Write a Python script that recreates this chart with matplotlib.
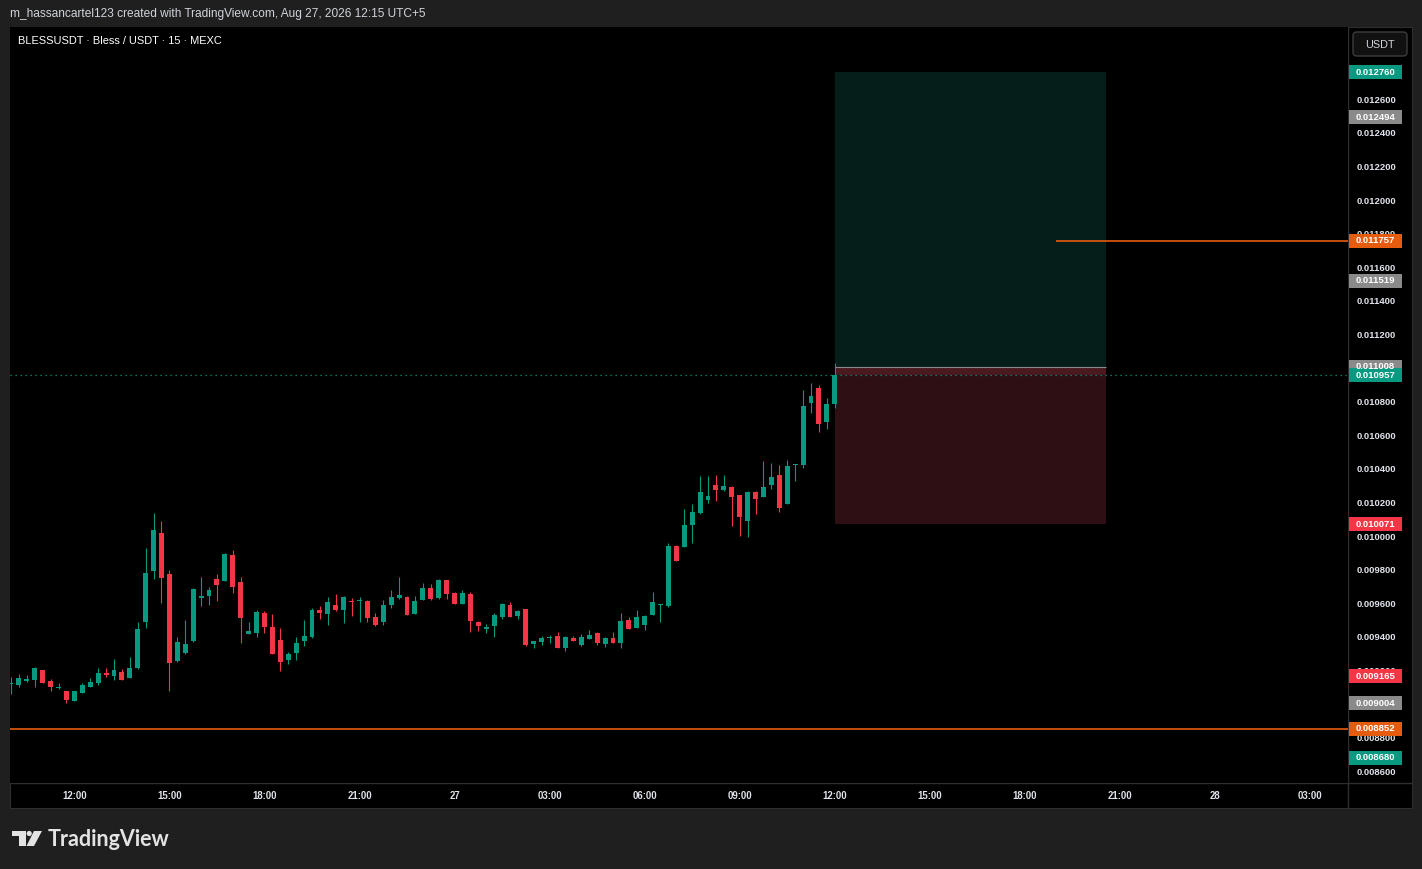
import numpy as np
import pandas as pd
import matplotlib as mpl

mpl.use('Agg')
import matplotlib.pyplot as plt
from matplotlib.patches import Rectangle, FancyBboxPatch, Polygon, Circle

plt.rcParams['font.family'] = ['Liberation Sans', 'DejaVu Sans']

# 15m candles, BLESSUSDT, from 2026-08-26 10:00 to 2026-08-27 12:00
opens = [0.009119, 0.009113, 0.009139, 0.009143, 0.009202, 0.009137, 0.009097, 0.009077, 0.009020, 0.009067,
         0.009103, 0.009127, 0.009185, 0.009169, 0.009190, 0.009157, 0.009216, 0.009490, 0.009794, 0.010018,
         0.009774, 0.009258, 0.009305, 0.009377, 0.009633, 0.009645, 0.009744, 0.009734, 0.009887, 0.009726,
         0.009419, 0.009425, 0.009542, 0.009458, 0.009381, 0.009262, 0.009304, 0.009375, 0.009399, 0.009560,
         0.009536, 0.009589, 0.009560, 0.009613, 0.009613, 0.009613, 0.009518, 0.009488, 0.009589, 0.009631,
         0.009637, 0.009536, 0.009619, 0.009690, 0.009631, 0.009738, 0.009661, 0.009595, 0.009655, 0.009488,
         0.009446, 0.009464, 0.009518, 0.009589, 0.009524, 0.009565, 0.009357, 0.009369, 0.009393, 0.009405,
         0.009333, 0.009393, 0.009351, 0.009387, 0.009423, 0.009357, 0.009393, 0.009363, 0.009500, 0.009452,
         0.009470, 0.009530, 0.009589, 0.009583, 0.009940, 0.009935, 0.010065, 0.010137, 0.010214, 0.010304,
         0.010274, 0.010292, 0.010244, 0.010089, 0.010262, 0.010232, 0.010304, 0.010363, 0.010190, 0.010423,
         0.010423, 0.010792, 0.010881, 0.010679, 0.010786]
highs = [0.009161, 0.009179, 0.009173, 0.009220, 0.009205, 0.009149, 0.009127, 0.009080, 0.009080, 0.009125,
         0.009155, 0.009214, 0.009214, 0.009268, 0.009208, 0.009280, 0.009488, 0.009929, 0.010137, 0.010089,
         0.009798, 0.009399, 0.009500, 0.009690, 0.009756, 0.009696, 0.009774, 0.009899, 0.009917, 0.009756,
         0.009488, 0.009560, 0.009554, 0.009536, 0.009452, 0.009310, 0.009397, 0.009500, 0.009571, 0.009583,
         0.009637, 0.009655, 0.009643, 0.009631, 0.009637, 0.009619, 0.009542, 0.009619, 0.009679, 0.009756,
         0.009640, 0.009643, 0.009720, 0.009714, 0.009744, 0.009740, 0.009667, 0.009679, 0.009667, 0.009494,
         0.009476, 0.009542, 0.009601, 0.009607, 0.009560, 0.009568, 0.009378, 0.009405, 0.009411, 0.009429,
         0.009405, 0.009405, 0.009417, 0.009440, 0.009426, 0.009399, 0.009429, 0.009542, 0.009518, 0.009560,
         0.009527, 0.009667, 0.009598, 0.009958, 0.009946, 0.010161, 0.010190, 0.010357, 0.010357, 0.010363,
         0.010363, 0.010295, 0.010247, 0.010265, 0.010265, 0.010446, 0.010435, 0.010423, 0.010452, 0.010429,
         0.010869, 0.010911, 0.010899, 0.010821, 0.011030]
lows = [0.009060, 0.009103, 0.009131, 0.009103, 0.009125, 0.009079, 0.009091, 0.009004, 0.009018, 0.009065,
        0.009100, 0.009115, 0.009163, 0.009145, 0.009143, 0.009155, 0.009210, 0.009454, 0.009746, 0.009603,
        0.009079, 0.009250, 0.009300, 0.009372, 0.009585, 0.009591, 0.009615, 0.009730, 0.009663, 0.009365,
        0.009417, 0.009401, 0.009425, 0.009298, 0.009198, 0.009240, 0.009262, 0.009345, 0.009395, 0.009506,
        0.009470, 0.009554, 0.009482, 0.009524, 0.009488, 0.009488, 0.009464, 0.009470, 0.009571, 0.009628,
        0.009528, 0.009533, 0.009617, 0.009622, 0.009628, 0.009625, 0.009593, 0.009593, 0.009429, 0.009435,
        0.009423, 0.009399, 0.009506, 0.009516, 0.009506, 0.009348, 0.009333, 0.009351, 0.009363, 0.009331,
        0.009315, 0.009373, 0.009345, 0.009385, 0.009351, 0.009339, 0.009361, 0.009333, 0.009444, 0.009450,
        0.009440, 0.009528, 0.009488, 0.009580, 0.009849, 0.009933, 0.009958, 0.010131, 0.010196, 0.010208,
        0.010268, 0.010060, 0.010000, 0.009994, 0.010131, 0.010230, 0.010280, 0.010143, 0.010188, 0.010327,
        0.010405, 0.010732, 0.010619, 0.010637, 0.010762]
closes = [0.009125, 0.009155, 0.009143, 0.009214, 0.009127, 0.009103, 0.009100, 0.009026, 0.009077, 0.009113,
          0.009131, 0.009185, 0.009173, 0.009202, 0.009145, 0.009214, 0.009446, 0.009780, 0.010036, 0.009752,
          0.009246, 0.009369, 0.009357, 0.009685, 0.009643, 0.009679, 0.009710, 0.009893, 0.009698, 0.009514,
          0.009435, 0.009548, 0.009460, 0.009300, 0.009252, 0.009298, 0.009363, 0.009405, 0.009560, 0.009542,
          0.009607, 0.009560, 0.009637, 0.009607, 0.009619, 0.009512, 0.009470, 0.009589, 0.009637, 0.009649,
          0.009530, 0.009613, 0.009690, 0.009625, 0.009738, 0.009655, 0.009595, 0.009661, 0.009494, 0.009464,
          0.009458, 0.009530, 0.009595, 0.009518, 0.009554, 0.009351, 0.009375, 0.009393, 0.009399, 0.009333,
          0.009399, 0.009375, 0.009399, 0.009411, 0.009363, 0.009393, 0.009363, 0.009494, 0.009446, 0.009518,
          0.009524, 0.009607, 0.009595, 0.009940, 0.009851, 0.010065, 0.010143, 0.010262, 0.010238, 0.010274,
          0.010298, 0.010232, 0.010113, 0.010262, 0.010220, 0.010292, 0.010351, 0.010167, 0.010417, 0.010429,
          0.010774, 0.010833, 0.010667, 0.010786, 0.010957]

start_time = '2026-08-26 10:00'
price_ticks = np.round(np.arange(0.0086, 0.01261, 0.0002), 6)

# long position tool + drawn lines
entry = 0.011008
target = 0.012760
stop = 0.010071
last_price = 0.010957
level_low = 0.008852
level_high = 0.011757

# price-scale labels (value, colour)
scale_labels = [(0.012760, '#089981'), (0.012494, '#8a8a8a'), (0.011757, '#e65c0f'),
                (0.011519, '#8a8a8a'), (0.011008, '#8a8a8a'), (0.010957, '#089981'),
                (0.010071, '#f23645'), (0.009165, '#f23645'), (0.009004, '#8a8a8a'),
                (0.008852, '#e65c0f'), (0.008680, '#089981')]

UP = '#089981'
DOWN = '#f23645'
ORANGE = '#e65c0f'
W, H = 1422, 869


def px_rect(x0, y0, x1, y1):
    return [x0 / W, 1 - y1 / H, (x1 - x0) / W, (y1 - y0) / H]


fig = plt.figure(figsize=(W / 100, H / 100), dpi=100, facecolor='#1f1f1f')

# chart panel background
bg = fig.add_axes(px_rect(10, 27, 1412, 808))
bg.set_facecolor('#000000')
bg.set_xticks([])
bg.set_yticks([])
for s in bg.spines.values():
    s.set_color('#2e2e2e')
bg.axvline((1348 - 10) / 1402, color='#2e2e2e', lw=1)
bg.axhline((808 - 783) / 781, color='#2e2e2e', lw=1)

ax = fig.add_axes(px_rect(10, 27, 1348, 783))
ax.set_facecolor('#000000')
for s in ax.spines.values():
    s.set_visible(False)

n = len(opens)
x = np.arange(n)
o = np.array(opens)
h = np.array(highs)
l = np.array(lows)
c = np.array(closes)
cols = [UP if cc >= oo else DOWN for oo, cc in zip(o, c)]

x_right = 168.8
ax.set_xlim(-0.126, x_right)
ax.set_ylim(0.0085298, 0.0130298)

# position tool
pos_end = 138.3
ax.fill_between([n - 1, pos_end], entry, target, color='#061e19', lw=0, zorder=1)
ax.fill_between([n - 1, pos_end], stop, last_price, color='#2e0f13', lw=0, zorder=1)
ax.fill_between([n - 1, pos_end], last_price, entry, color='#4a1a20', lw=0, zorder=1)
ax.hlines(entry, n - 1, pos_end, color='#8a8a8a', lw=0.8, zorder=2)

# horizontal levels
ax.axhline(level_low, color=ORANGE, lw=1.2, zorder=2)
ax.hlines(level_high, 131.9, x_right, color=ORANGE, lw=1.2, zorder=2)
ax.axhline(last_price, color=UP, lw=0.9, linestyle=(0, (1, 3)), zorder=2)

# candles
min_body = 1.2 / 168000
ax.vlines(x, l, h, colors=cols, lw=0.8, zorder=3)
ax.bar(x, np.maximum(np.abs(c - o), min_body), bottom=np.minimum(o, c), width=0.62,
       color=cols, lw=0, zorder=4)

# axes ticks
ax.yaxis.tick_right()
ax.set_yticks(price_ticks)
ax.set_yticklabels([f'{v:.6f}' for v in price_ticks])
ax.tick_params(axis='y', length=0, pad=6, labelcolor='#e0e3eb', labelsize=6.8)
for t in ax.get_yticklabels():
    t.set_fontweight('bold')

times = pd.date_range(start_time, periods=170, freq='15min')
tick_idx = list(range(8, 168, 12))
tick_lbl = []
for i in tick_idx:
    t = times[i]
    tick_lbl.append(str(t.day) if (t.hour == 0 and t.minute == 0) else t.strftime('%H:%M'))
ax.set_xticks(tick_idx)
ax.set_xticklabels(tick_lbl)
ax.tick_params(axis='x', length=0, pad=6, labelcolor='#e0e3eb', labelsize=6.9)
for t in ax.get_xticklabels():
    t.set_fontweight('bold')

# coloured labels on the price scale
axp = fig.add_axes(px_rect(1348, 27, 1412, 783))
axp.set_facecolor('none')
axp.axis('off')
axp.set_xlim(0, 64)
axp.set_ylim(ax.get_ylim())
box_h = 14 / 168000
for val, col in scale_labels:
    axp.add_patch(Rectangle((1, val - box_h / 2), 53, box_h, color=col, lw=0))
    axp.text(27.5, val, f'{val:.6f}', color='white', fontsize=6.8, fontweight='bold',
             ha='center', va='center')

# decorations in pixel coordinates
ov = fig.add_axes([0, 0, 1, 1])
ov.set_facecolor('none')
ov.axis('off')
ov.set_xlim(0, W)
ov.set_ylim(H, 0)

ov.text(10, 14, 'm_hassancartel123 created with TradingView.com, Aug 27, 2026 12:15 UTC+5',
        color='#d1d4dc', fontsize=8.6, va='center', ha='left')
ov.text(18, 41, 'BLESSUSDT · Bless / USDT · 15 · MEXC', color='#ffffff', fontsize=7.9,
        va='center', ha='left')

ov.add_patch(FancyBboxPatch((1353, 32), 54, 24, boxstyle='round,pad=0,rounding_size=4',
                            fc='#111111', ec='#3d3d3d', lw=1))
ov.text(1380, 44.5, 'USDT', color='#d1d4dc', fontsize=7.8, ha='center', va='center')

# TradingView logo
logo_col = '#e3e3e3'
ov.add_patch(Polygon([(12.3, 831), (25.7, 831), (25.7, 846), (19, 846), (19, 836), (12.3, 836)],
                     closed=True, color=logo_col, lw=0))
ov.add_patch(Circle((29.2, 833.5), 2.6, color=logo_col, lw=0))
ov.add_patch(Polygon([(34, 831), (42, 831), (34, 846), (26.5, 846)], closed=True, color=logo_col, lw=0))
ov.text(48, 839, 'TradingView', color=logo_col, fontsize=15.5, fontweight='bold',
        ha='left', va='center', family=['Lato', 'DejaVu Sans'])

fig.savefig('out.png', dpi=100, facecolor=fig.get_facecolor())
